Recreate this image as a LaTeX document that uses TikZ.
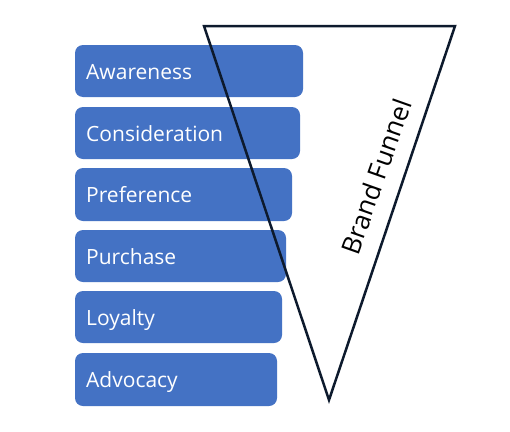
\documentclass[tikz,border=0pt]{standalone}
\usepackage{fontspec}
\setmainfont{Open Sans}
\definecolor{boxblue}{HTML}{4472C4}
\definecolor{funnelline}{HTML}{0D1A2D}
\begin{document}
\begin{tikzpicture}[x=1pt,y=-1pt,
  stagebox/.style={fill=boxblue,draw=none,rounded corners=8pt},
  stagetext/.style={anchor=base west,text=white,font=\fontsize{21}{25}\selectfont,inner sep=0pt},
  funnel/.style={draw=funnelline,line width=2.5pt,line join=miter}]
\useasboundingbox (0,0) rectangle (510,431);
\fill[white] (0,0) rectangle (510,431);
\foreach \name/\txt/\right/\top/\bot in {aw/Awareness/303/45/97, co/Consideration/300/107/159, pr/Preference/292/168/221, pu/Purchase/286/230/282, lo/Loyalty/282/291/343, ad/Advocacy/277/353/406}{
  \fill[stagebox] (75,\top) rectangle (\right,\bot);
  \node[stagetext] (\name) at (86,{(\top+\bot)/2+8}) {\txt};
}
\coordinate (tl) at (204,26);
\coordinate (tr) at (455,26);
\coordinate (bt) at (329,400);
\draw[funnel] (tl) -- (tr) -- (bt) -- cycle;
\node[rotate=70.5,font=\fontsize{26}{31}\selectfont,inner sep=0pt] (bf) at (376,177) {Brand Funnel};
\end{tikzpicture}
\end{document}
